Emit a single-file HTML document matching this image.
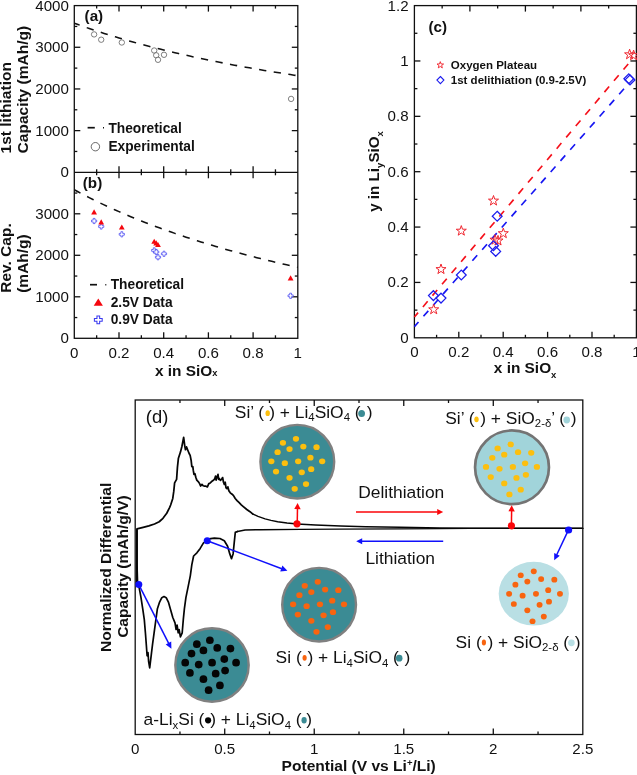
<!DOCTYPE html>
<html lang="en"><head><meta charset="utf-8"><title>SiOx figure</title>
<style>html,body{margin:0;padding:0;background:#fff}svg{display:block}text{font-family:'Liberation Sans', Arial, Helvetica, sans-serif}</style>
</head><body>
<svg width="637" height="775" viewBox="0 0 637 775">
<rect width="637" height="775" fill="#fff"/>
<defs>
<path id="plus" d="M-0.9 -2.6 h1.8 v1.7 h1.7 v1.8 h-1.7 v1.7 h-1.8 v-1.7 h-1.7 v-1.8 h1.7z" fill="#fff" stroke="#3a3af0" stroke-width="0.7"/>
<polygon id="star" points="0,-4.9 1.23,-1.3 5.04,-1.24 2,1.05 3.12,4.69 0,2.5 -3.12,4.69 -2,1.05 -5.04,-1.24 -1.23,-1.3" fill="none" stroke="#f0262f" stroke-width="1" stroke-linejoin="miter"/>
<path id="dia" d="M0 -4.9 L4.9 0 L0 4.9 L-4.9 0z" fill="none" stroke="#1c1cee" stroke-width="1.25"/>
</defs>
<g id="panel-ab">
<rect x="74.3" y="5.6" width="223.5" height="332.7" fill="none" stroke="#101010" stroke-width="1.3"/>
<line x1="74.3" y1="172.3" x2="297.8" y2="172.3" stroke="#101010" stroke-width="1.3" />
<line x1="96.65" y1="5.6" x2="96.65" y2="8.6" stroke="#101010" stroke-width="1.3" />
<line x1="96.65" y1="169.3" x2="96.65" y2="175.3" stroke="#101010" stroke-width="1.3" />
<line x1="96.65" y1="335.3" x2="96.65" y2="338.3" stroke="#101010" stroke-width="1.3" />
<line x1="119" y1="5.6" x2="119" y2="11.6" stroke="#101010" stroke-width="1.3" />
<line x1="119" y1="166.3" x2="119" y2="178.3" stroke="#101010" stroke-width="1.3" />
<line x1="119" y1="332.3" x2="119" y2="338.3" stroke="#101010" stroke-width="1.3" />
<line x1="141.35" y1="5.6" x2="141.35" y2="8.6" stroke="#101010" stroke-width="1.3" />
<line x1="141.35" y1="169.3" x2="141.35" y2="175.3" stroke="#101010" stroke-width="1.3" />
<line x1="141.35" y1="335.3" x2="141.35" y2="338.3" stroke="#101010" stroke-width="1.3" />
<line x1="163.7" y1="5.6" x2="163.7" y2="11.6" stroke="#101010" stroke-width="1.3" />
<line x1="163.7" y1="166.3" x2="163.7" y2="178.3" stroke="#101010" stroke-width="1.3" />
<line x1="163.7" y1="332.3" x2="163.7" y2="338.3" stroke="#101010" stroke-width="1.3" />
<line x1="186.05" y1="5.6" x2="186.05" y2="8.6" stroke="#101010" stroke-width="1.3" />
<line x1="186.05" y1="169.3" x2="186.05" y2="175.3" stroke="#101010" stroke-width="1.3" />
<line x1="186.05" y1="335.3" x2="186.05" y2="338.3" stroke="#101010" stroke-width="1.3" />
<line x1="208.4" y1="5.6" x2="208.4" y2="11.6" stroke="#101010" stroke-width="1.3" />
<line x1="208.4" y1="166.3" x2="208.4" y2="178.3" stroke="#101010" stroke-width="1.3" />
<line x1="208.4" y1="332.3" x2="208.4" y2="338.3" stroke="#101010" stroke-width="1.3" />
<line x1="230.75" y1="5.6" x2="230.75" y2="8.6" stroke="#101010" stroke-width="1.3" />
<line x1="230.75" y1="169.3" x2="230.75" y2="175.3" stroke="#101010" stroke-width="1.3" />
<line x1="230.75" y1="335.3" x2="230.75" y2="338.3" stroke="#101010" stroke-width="1.3" />
<line x1="253.1" y1="5.6" x2="253.1" y2="11.6" stroke="#101010" stroke-width="1.3" />
<line x1="253.1" y1="166.3" x2="253.1" y2="178.3" stroke="#101010" stroke-width="1.3" />
<line x1="253.1" y1="332.3" x2="253.1" y2="338.3" stroke="#101010" stroke-width="1.3" />
<line x1="275.45" y1="5.6" x2="275.45" y2="8.6" stroke="#101010" stroke-width="1.3" />
<line x1="275.45" y1="169.3" x2="275.45" y2="175.3" stroke="#101010" stroke-width="1.3" />
<line x1="275.45" y1="335.3" x2="275.45" y2="338.3" stroke="#101010" stroke-width="1.3" />
<line x1="74.3" y1="151.46" x2="77.3" y2="151.46" stroke="#101010" stroke-width="1.3" />
<line x1="294.8" y1="151.46" x2="297.8" y2="151.46" stroke="#101010" stroke-width="1.3" />
<line x1="74.3" y1="317.55" x2="77.3" y2="317.55" stroke="#101010" stroke-width="1.3" />
<line x1="294.8" y1="317.55" x2="297.8" y2="317.55" stroke="#101010" stroke-width="1.3" />
<line x1="74.3" y1="130.62" x2="80.3" y2="130.62" stroke="#101010" stroke-width="1.3" />
<line x1="291.8" y1="130.62" x2="297.8" y2="130.62" stroke="#101010" stroke-width="1.3" />
<line x1="74.3" y1="296.8" x2="80.3" y2="296.8" stroke="#101010" stroke-width="1.3" />
<line x1="291.8" y1="296.8" x2="297.8" y2="296.8" stroke="#101010" stroke-width="1.3" />
<line x1="74.3" y1="109.79" x2="77.3" y2="109.79" stroke="#101010" stroke-width="1.3" />
<line x1="294.8" y1="109.79" x2="297.8" y2="109.79" stroke="#101010" stroke-width="1.3" />
<line x1="74.3" y1="276.05" x2="77.3" y2="276.05" stroke="#101010" stroke-width="1.3" />
<line x1="294.8" y1="276.05" x2="297.8" y2="276.05" stroke="#101010" stroke-width="1.3" />
<line x1="74.3" y1="88.95" x2="80.3" y2="88.95" stroke="#101010" stroke-width="1.3" />
<line x1="291.8" y1="88.95" x2="297.8" y2="88.95" stroke="#101010" stroke-width="1.3" />
<line x1="74.3" y1="255.3" x2="80.3" y2="255.3" stroke="#101010" stroke-width="1.3" />
<line x1="291.8" y1="255.3" x2="297.8" y2="255.3" stroke="#101010" stroke-width="1.3" />
<line x1="74.3" y1="68.11" x2="77.3" y2="68.11" stroke="#101010" stroke-width="1.3" />
<line x1="294.8" y1="68.11" x2="297.8" y2="68.11" stroke="#101010" stroke-width="1.3" />
<line x1="74.3" y1="234.55" x2="77.3" y2="234.55" stroke="#101010" stroke-width="1.3" />
<line x1="294.8" y1="234.55" x2="297.8" y2="234.55" stroke="#101010" stroke-width="1.3" />
<line x1="74.3" y1="47.27" x2="80.3" y2="47.27" stroke="#101010" stroke-width="1.3" />
<line x1="291.8" y1="47.27" x2="297.8" y2="47.27" stroke="#101010" stroke-width="1.3" />
<line x1="74.3" y1="213.8" x2="80.3" y2="213.8" stroke="#101010" stroke-width="1.3" />
<line x1="291.8" y1="213.8" x2="297.8" y2="213.8" stroke="#101010" stroke-width="1.3" />
<line x1="74.3" y1="26.44" x2="77.3" y2="26.44" stroke="#101010" stroke-width="1.3" />
<line x1="294.8" y1="26.44" x2="297.8" y2="26.44" stroke="#101010" stroke-width="1.3" />
<line x1="74.3" y1="193.05" x2="77.3" y2="193.05" stroke="#101010" stroke-width="1.3" />
<line x1="294.8" y1="193.05" x2="297.8" y2="193.05" stroke="#101010" stroke-width="1.3" />
<text x="68.9" y="177.2" font-size="15.1" text-anchor="end" fill="#111" >0</text>
<text x="68.9" y="135.53" font-size="15.1" text-anchor="end" fill="#111" >1000</text>
<text x="68.9" y="93.85" font-size="15.1" text-anchor="end" fill="#111" >2000</text>
<text x="68.9" y="52.17" font-size="15.1" text-anchor="end" fill="#111" >3000</text>
<text x="68.9" y="10.5" font-size="15.1" text-anchor="end" fill="#111" >4000</text>
<text x="68.9" y="343.2" font-size="15.1" text-anchor="end" fill="#111" >0</text>
<text x="68.9" y="301.7" font-size="15.1" text-anchor="end" fill="#111" >1000</text>
<text x="68.9" y="260.2" font-size="15.1" text-anchor="end" fill="#111" >2000</text>
<text x="68.9" y="218.7" font-size="15.1" text-anchor="end" fill="#111" >3000</text>
<text x="74.3" y="358.3" font-size="15.1" text-anchor="middle" fill="#111" >0</text>
<text x="119" y="358.3" font-size="15.1" text-anchor="middle" fill="#111" >0.2</text>
<text x="163.7" y="358.3" font-size="15.1" text-anchor="middle" fill="#111" >0.4</text>
<text x="208.4" y="358.3" font-size="15.1" text-anchor="middle" fill="#111" >0.6</text>
<text x="253.1" y="358.3" font-size="15.1" text-anchor="middle" fill="#111" >0.8</text>
<text x="297.8" y="358.3" font-size="15.1" text-anchor="middle" fill="#111" >1</text>
<text x="155" y="376" font-size="15.4" font-weight="bold" text-anchor="start" fill="#111" >x in SiO<tspan font-size="9.3">x</tspan></text>
<g transform="rotate(-90)" font-weight="bold" font-size="15.5" fill="#111">
<text x="-153.4" y="11.1">1st lithiation</text>
<text x="-153.4" y="27.8">Capacity (mAh/g)</text>
<text x="-292.8" y="11.0">Rev. Cap.</text>
<text x="-292.8" y="27.7">(mAh/g)</text>
</g>
<text x="84.6" y="21.4" font-size="15.2" font-weight="bold" text-anchor="start" fill="#111" >(a)</text>
<text x="82.8" y="188.2" font-size="15.2" font-weight="bold" text-anchor="start" fill="#111" >(b)</text>
<polyline points="74.3,23.17 78.02,24.53 81.75,25.86 85.47,27.18 89.2,28.46 92.92,29.73 96.65,30.97 100.38,32.19 104.1,33.39 107.82,34.56 111.55,35.72 115.27,36.86 119,37.97 122.72,39.07 126.45,40.15 130.18,41.21 133.9,42.26 137.62,43.29 141.35,44.3 145.07,45.29 148.8,46.27 152.52,47.23 156.25,48.18 159.98,49.11 163.7,50.03 167.43,50.94 171.15,51.83 174.88,52.71 178.6,53.57 182.32,54.42 186.05,55.26 189.78,56.09 193.5,56.9 197.23,57.71 200.95,58.5 204.68,59.28 208.4,60.05 212.12,60.8 215.85,61.55 219.57,62.29 223.3,63.01 227.02,63.73 230.75,64.44 234.48,65.14 238.2,65.83 241.93,66.5 245.65,67.18 249.38,67.84 253.1,68.49 256.82,69.13 260.55,69.77 264.27,70.4 268,71.02 271.72,71.63 275.45,72.23 279.18,72.83 282.9,73.42 286.62,74 290.35,74.58 294.07,75.15 297.8,75.71" fill="none" stroke="#111" stroke-width="1.55" stroke-dasharray="7.3 7.5" stroke-dashoffset="1.6"/>
<polyline points="74.3,189.79 78.02,191.8 81.75,193.77 85.47,195.71 89.2,197.61 92.92,199.48 96.65,201.31 100.38,203.11 104.1,204.88 107.82,206.61 111.55,208.32 115.27,210 119,211.65 122.72,213.27 126.45,214.86 130.18,216.43 133.9,217.97 137.62,219.49 141.35,220.98 145.07,222.45 148.8,223.89 152.52,225.32 156.25,226.71 159.98,228.09 163.7,229.45 167.43,230.78 171.15,232.1 174.88,233.39 178.6,234.67 182.32,235.93 186.05,237.16 189.78,238.38 193.5,239.59 197.23,240.77 200.95,241.94 204.68,243.09 208.4,244.22 212.12,245.34 215.85,246.45 219.57,247.54 223.3,248.61 227.02,249.67 230.75,250.71 234.48,251.74 238.2,252.76 241.93,253.76 245.65,254.75 249.38,255.72 253.1,256.69 256.82,257.64 260.55,258.58 264.27,259.51 268,260.42 271.72,261.32 275.45,262.22 279.18,263.1 282.9,263.97 286.62,264.83 290.35,265.68 294.07,266.51 297.8,267.34" fill="none" stroke="#111" stroke-width="1.55" stroke-dasharray="7.3 7.5" stroke-dashoffset="0.3"/>
<circle cx="94.1" cy="34.4" r="2.7" fill="#fff" fill-opacity="0.6" stroke="#555" stroke-width="0.75"/>
<circle cx="101.2" cy="39.7" r="2.7" fill="#fff" fill-opacity="0.6" stroke="#555" stroke-width="0.75"/>
<circle cx="121.8" cy="42.5" r="2.7" fill="#fff" fill-opacity="0.6" stroke="#555" stroke-width="0.75"/>
<circle cx="154.2" cy="50.5" r="2.7" fill="#fff" fill-opacity="0.6" stroke="#555" stroke-width="0.75"/>
<circle cx="156.2" cy="55.3" r="2.7" fill="#fff" fill-opacity="0.6" stroke="#555" stroke-width="0.75"/>
<circle cx="158" cy="59.8" r="2.7" fill="#fff" fill-opacity="0.6" stroke="#555" stroke-width="0.75"/>
<circle cx="164" cy="54.8" r="2.7" fill="#fff" fill-opacity="0.6" stroke="#555" stroke-width="0.75"/>
<circle cx="291.1" cy="98.9" r="2.7" fill="#fff" fill-opacity="0.6" stroke="#555" stroke-width="0.75"/>
<line x1="87.6" y1="127.7" x2="94.8" y2="127.7" stroke="#111" stroke-width="1.7" />
<line x1="103" y1="127.7" x2="104" y2="127.7" stroke="#111" stroke-width="1.4" />
<text x="108.4" y="132.5" font-size="13.75" font-weight="bold" text-anchor="start" fill="#111" >Theoretical</text>
<circle cx="95.4" cy="146.7" r="4.2" fill="none" stroke="#444" stroke-width="0.8"/>
<text x="108.4" y="150.9" font-size="13.75" font-weight="bold" text-anchor="start" fill="#111" >Experimental</text>
<use href="#plus" x="94.1" y="221"/>
<use href="#plus" x="101.2" y="226.5"/>
<use href="#plus" x="121.8" y="234.3"/>
<use href="#plus" x="154.2" y="250.4"/>
<use href="#plus" x="156.2" y="252"/>
<use href="#plus" x="158" y="257.2"/>
<use href="#plus" x="164" y="253.8"/>
<use href="#plus" x="290.6" y="295.8"/>
<path d="M94.1 209.3 l2.9 5.1 h-5.8z" fill="#f5070f"/>
<path d="M101.2 219.3 l2.9 5.1 h-5.8z" fill="#f5070f"/>
<path d="M121.8 224.5 l2.9 5.1 h-5.8z" fill="#f5070f"/>
<path d="M154.2 238.7 l2.9 5.1 h-5.8z" fill="#f5070f"/>
<path d="M156.2 240.3 l2.9 5.1 h-5.8z" fill="#f5070f"/>
<path d="M158 241.9 l2.9 5.1 h-5.8z" fill="#f5070f"/>
<path d="M290.6 275.3 l2.9 5.1 h-5.8z" fill="#f5070f"/>
<line x1="90" y1="284.7" x2="97" y2="284.7" stroke="#111" stroke-width="1.7" />
<line x1="105.3" y1="284.7" x2="106.3" y2="284.7" stroke="#111" stroke-width="1.4" />
<text x="110.7" y="289.3" font-size="13.75" font-weight="bold" text-anchor="start" fill="#111" >Theoretical</text>
<path d="M98.3 298.6 l4.6 7.2 h-9.2z" fill="#f5070f"/>
<text x="110.7" y="306.7" font-size="13.75" font-weight="bold" text-anchor="start" fill="#111" >2.5V Data</text>
<use href="#plus" transform="translate(98.3 319.9) scale(1.5)"/>
<text x="110.7" y="324.3" font-size="13.75" font-weight="bold" text-anchor="start" fill="#111" >0.9V Data</text>
</g>
<g id="panel-c">
<rect x="414.4" y="5.6" width="222" height="332.2" fill="none" stroke="#101010" stroke-width="1.3"/>
<line x1="436.6" y1="334.8" x2="436.6" y2="337.8" stroke="#101010" stroke-width="1.3" />
<line x1="458.8" y1="331.8" x2="458.8" y2="337.8" stroke="#101010" stroke-width="1.3" />
<line x1="481" y1="334.8" x2="481" y2="337.8" stroke="#101010" stroke-width="1.3" />
<line x1="503.2" y1="331.8" x2="503.2" y2="337.8" stroke="#101010" stroke-width="1.3" />
<line x1="525.4" y1="334.8" x2="525.4" y2="337.8" stroke="#101010" stroke-width="1.3" />
<line x1="547.6" y1="331.8" x2="547.6" y2="337.8" stroke="#101010" stroke-width="1.3" />
<line x1="569.8" y1="334.8" x2="569.8" y2="337.8" stroke="#101010" stroke-width="1.3" />
<line x1="592" y1="331.8" x2="592" y2="337.8" stroke="#101010" stroke-width="1.3" />
<line x1="614.2" y1="334.8" x2="614.2" y2="337.8" stroke="#101010" stroke-width="1.3" />
<line x1="442.15" y1="5.6" x2="442.15" y2="8.6" stroke="#101010" stroke-width="1.3" />
<line x1="469.9" y1="5.6" x2="469.9" y2="11.6" stroke="#101010" stroke-width="1.3" />
<line x1="497.65" y1="5.6" x2="497.65" y2="8.6" stroke="#101010" stroke-width="1.3" />
<line x1="525.4" y1="5.6" x2="525.4" y2="11.6" stroke="#101010" stroke-width="1.3" />
<line x1="553.15" y1="5.6" x2="553.15" y2="8.6" stroke="#101010" stroke-width="1.3" />
<line x1="580.9" y1="5.6" x2="580.9" y2="11.6" stroke="#101010" stroke-width="1.3" />
<line x1="608.65" y1="5.6" x2="608.65" y2="8.6" stroke="#101010" stroke-width="1.3" />
<line x1="414.4" y1="310.12" x2="417.4" y2="310.12" stroke="#101010" stroke-width="1.3" />
<line x1="633.4" y1="310.12" x2="636.4" y2="310.12" stroke="#101010" stroke-width="1.3" />
<line x1="414.4" y1="282.43" x2="420.4" y2="282.43" stroke="#101010" stroke-width="1.3" />
<line x1="630.4" y1="282.43" x2="636.4" y2="282.43" stroke="#101010" stroke-width="1.3" />
<line x1="414.4" y1="254.75" x2="417.4" y2="254.75" stroke="#101010" stroke-width="1.3" />
<line x1="633.4" y1="254.75" x2="636.4" y2="254.75" stroke="#101010" stroke-width="1.3" />
<line x1="414.4" y1="227.07" x2="420.4" y2="227.07" stroke="#101010" stroke-width="1.3" />
<line x1="630.4" y1="227.07" x2="636.4" y2="227.07" stroke="#101010" stroke-width="1.3" />
<line x1="414.4" y1="199.38" x2="417.4" y2="199.38" stroke="#101010" stroke-width="1.3" />
<line x1="633.4" y1="199.38" x2="636.4" y2="199.38" stroke="#101010" stroke-width="1.3" />
<line x1="414.4" y1="171.7" x2="420.4" y2="171.7" stroke="#101010" stroke-width="1.3" />
<line x1="630.4" y1="171.7" x2="636.4" y2="171.7" stroke="#101010" stroke-width="1.3" />
<line x1="414.4" y1="144.02" x2="417.4" y2="144.02" stroke="#101010" stroke-width="1.3" />
<line x1="633.4" y1="144.02" x2="636.4" y2="144.02" stroke="#101010" stroke-width="1.3" />
<line x1="414.4" y1="116.33" x2="420.4" y2="116.33" stroke="#101010" stroke-width="1.3" />
<line x1="630.4" y1="116.33" x2="636.4" y2="116.33" stroke="#101010" stroke-width="1.3" />
<line x1="414.4" y1="88.65" x2="417.4" y2="88.65" stroke="#101010" stroke-width="1.3" />
<line x1="633.4" y1="88.65" x2="636.4" y2="88.65" stroke="#101010" stroke-width="1.3" />
<line x1="414.4" y1="60.97" x2="420.4" y2="60.97" stroke="#101010" stroke-width="1.3" />
<line x1="630.4" y1="60.97" x2="636.4" y2="60.97" stroke="#101010" stroke-width="1.3" />
<line x1="414.4" y1="33.28" x2="417.4" y2="33.28" stroke="#101010" stroke-width="1.3" />
<line x1="633.4" y1="33.28" x2="636.4" y2="33.28" stroke="#101010" stroke-width="1.3" />
<text x="408.6" y="342.7" font-size="15.1" text-anchor="end" fill="#111" >0</text>
<text x="408.6" y="287.33" font-size="15.1" text-anchor="end" fill="#111" >0.2</text>
<text x="408.6" y="231.97" font-size="15.1" text-anchor="end" fill="#111" >0.4</text>
<text x="408.6" y="176.6" font-size="15.1" text-anchor="end" fill="#111" >0.6</text>
<text x="408.6" y="121.23" font-size="15.1" text-anchor="end" fill="#111" >0.8</text>
<text x="408.6" y="65.87" font-size="15.1" text-anchor="end" fill="#111" >1</text>
<text x="408.6" y="10.5" font-size="15.1" text-anchor="end" fill="#111" >1.2</text>
<text x="414.4" y="356.9" font-size="15.1" text-anchor="middle" fill="#111" >0</text>
<text x="458.8" y="356.9" font-size="15.1" text-anchor="middle" fill="#111" >0.2</text>
<text x="503.2" y="356.9" font-size="15.1" text-anchor="middle" fill="#111" >0.4</text>
<text x="547.6" y="356.9" font-size="15.1" text-anchor="middle" fill="#111" >0.6</text>
<text x="592" y="356.9" font-size="15.1" text-anchor="middle" fill="#111" >0.8</text>
<text x="636.4" y="356.9" font-size="15.1" text-anchor="middle" fill="#111" >1</text>
<text x="493.8" y="373.4" font-size="15.4" font-weight="bold" text-anchor="start" fill="#111" >x in SiO<tspan font-size="9.5" dy="4.3">x</tspan></text>
<g transform="rotate(-90)" font-weight="bold" font-size="15.2" fill="#111">
<text x="-211.8" y="379.4">y in Li<tspan font-size="9.5" dy="3.4">y</tspan><tspan dy="-3.4">SiO</tspan><tspan font-size="9.5" dy="3.4">x</tspan></text>
</g>
<text x="428.4" y="31.5" font-size="15.2" font-weight="bold" text-anchor="start" fill="#111" >(c)</text>
<line x1="414.4" y1="317" x2="628.2" y2="64" stroke="#f5101a" stroke-width="1.65" stroke-dasharray="7.3 7.5" stroke-dashoffset="1.6"/>
<line x1="414.4" y1="326.6" x2="628.2" y2="84" stroke="#1616f2" stroke-width="1.65" stroke-dasharray="7.3 7.5" stroke-dashoffset="1.1"/>
<use href="#star" x="433.7" y="309.1"/>
<use href="#star" x="441" y="268.9"/>
<use href="#star" x="461.3" y="230.5"/>
<use href="#star" x="493.5" y="200.4"/>
<use href="#star" x="495" y="239.5"/>
<use href="#star" x="498" y="240.3"/>
<use href="#star" x="503.3" y="233"/>
<use href="#star" x="629.6" y="54.1"/>
<use href="#star" x="633.6" y="55"/>
<use href="#dia" x="433.4" y="295.6"/>
<use href="#dia" x="441" y="298.1"/>
<use href="#dia" x="461.3" y="275"/>
<use href="#dia" x="493.5" y="245.8"/>
<use href="#dia" x="495.7" y="251.4"/>
<use href="#dia" x="497.2" y="216.2"/>
<use href="#dia" x="628.8" y="78.8"/>
<use href="#dia" x="630" y="79.9"/>
<polygon points="440.3,61.65 441.12,63.97 443.58,64.03 441.63,65.53 442.33,67.89 440.3,66.5 438.27,67.89 438.97,65.53 437.02,64.03 439.48,63.97" fill="none" stroke="#f0262f" stroke-width="0.95"/>
<text x="450.8" y="69" font-size="11.5" font-weight="bold" text-anchor="start" fill="#111" >Oxygen Plateau</text>
<path d="M440.4 76.5 l3.5 3.6 l-3.5 3.6 l-3.5 -3.6z" fill="none" stroke="#1c1cee" stroke-width="1.1"/>
<text x="450.8" y="83.8" font-size="11.5" font-weight="bold" text-anchor="start" fill="#111" >1st delithiation (0.9-2.5V)</text>
</g>
<g id="panel-d">
<polyline points="136.9,584 137,528.9 143.19,527.39 148.84,525.88 154.49,523.99 159.2,521.73 162.97,518.34 166.74,513.26 169.56,507.6 170.65,504.97 172.77,498.47 173.76,491.4 174.61,482.93 176.59,479.39 177.43,467.38 178.42,458.2 180.54,451.84 181.95,446.19 183.65,437.43 184.78,446.19 185.49,449.72 186.47,446.9 187.61,449.72 189.02,453.26 190.15,455.38 191.14,460.32 191.84,466.68 192.83,466.68 193.26,470.21 193.96,474.45 194.95,473.74 195.8,477.27 196.79,480.1 198.2,481.51 199.61,483.63 200.6,486.03 202.02,484.34 203.15,485.75 204.56,486.03 205.97,486.18 207.38,486.88 208.8,483.63 209.93,483.21 211.62,481.51 213.74,480.1 214.73,478.69 215.58,476.14 216.14,480.1 216.99,477.27 217.98,474.45 218.69,479.39 219.39,478.69 220.38,480.38 221.51,479.39 222.64,477.56 223.49,482.22 224.34,484.34 225.19,482.22 226.03,487.87 226.88,488.58 227.87,486.88 228.86,490.7 230.27,492.82 232.11,494.23 233.52,495.64 235.22,498.47 237.05,500.59 239.17,502.71 241.29,504.82 243,506.3 246.8,509.5 250,511.7 252.6,513.9" fill="none" stroke="#050505" stroke-width="1.75" stroke-linejoin="round" stroke-linecap="round"/>
<polyline points="252.6,513.9 258,516.4 265.1,518.9 271,520.4 277.7,521.7 287,523 297.3,524 315.4,525 340.5,526 365.6,526.7 400,527.3 440,527.9 470,528.2 582.8,528.3" fill="none" stroke="#050505" stroke-width="1.4" stroke-linejoin="round" stroke-linecap="round"/>
<polyline points="582.8,528.4 470,528.4 440,528.6 400,528.85 340,529.15 300,529.4 260,529.7 245.1,530 237.5,531.5" fill="none" stroke="#050505" stroke-width="1.4" stroke-linejoin="round" stroke-linecap="round"/>
<polyline points="237.5,531.5 235.3,532.4 234.2,542.9 233.1,553.9 231.5,558.7 229.8,553.9 227.6,546.2 224.3,540.7 219.9,538.5 214.4,538.1 208.9,538.9 206.8,540.7 203.5,542.9 200.2,548.4 196.9,552.8 193.6,556 191.8,564.8 190.3,575.8 188.1,586.8 185.9,597.7 184.4,608.7 183.3,619.6 182.2,632.8 180.4,636.8 179.1,629.5 178.2,632.8 177.1,625.1 176.1,629.5 175,622.9 172.8,617.5 170.6,609.8 168.4,602.1 166.2,597.7 164,596.6 161.8,597.7 159.6,602.1 157.4,608.7 155.9,619.6 154.1,632.8 152.6,643.8 151.3,654.7 149.7,667.9 148.6,661.3 148,652.5 147.1,655.8 146.4,646 145.4,632.8 144.3,619.6 142.7,608.7 141,597.7 139.2,587.8 137.6,584.6 137,564.8 136.9,542.9 136.9,529.7" fill="none" stroke="#050505" stroke-width="1.7" stroke-linejoin="round" stroke-linecap="round"/>
<rect x="135.2" y="400" width="447.6" height="334.5" fill="none" stroke="#101010" stroke-width="1.3"/>
<line x1="179.96" y1="400" x2="179.96" y2="403" stroke="#101010" stroke-width="1.3" />
<line x1="179.96" y1="731.5" x2="179.96" y2="734.5" stroke="#101010" stroke-width="1.3" />
<line x1="224.72" y1="400" x2="224.72" y2="406" stroke="#101010" stroke-width="1.3" />
<line x1="224.72" y1="728.5" x2="224.72" y2="734.5" stroke="#101010" stroke-width="1.3" />
<line x1="269.48" y1="400" x2="269.48" y2="403" stroke="#101010" stroke-width="1.3" />
<line x1="269.48" y1="731.5" x2="269.48" y2="734.5" stroke="#101010" stroke-width="1.3" />
<line x1="314.24" y1="400" x2="314.24" y2="406" stroke="#101010" stroke-width="1.3" />
<line x1="314.24" y1="728.5" x2="314.24" y2="734.5" stroke="#101010" stroke-width="1.3" />
<line x1="359" y1="400" x2="359" y2="403" stroke="#101010" stroke-width="1.3" />
<line x1="359" y1="731.5" x2="359" y2="734.5" stroke="#101010" stroke-width="1.3" />
<line x1="403.76" y1="400" x2="403.76" y2="406" stroke="#101010" stroke-width="1.3" />
<line x1="403.76" y1="728.5" x2="403.76" y2="734.5" stroke="#101010" stroke-width="1.3" />
<line x1="448.52" y1="400" x2="448.52" y2="403" stroke="#101010" stroke-width="1.3" />
<line x1="448.52" y1="731.5" x2="448.52" y2="734.5" stroke="#101010" stroke-width="1.3" />
<line x1="493.28" y1="400" x2="493.28" y2="406" stroke="#101010" stroke-width="1.3" />
<line x1="493.28" y1="728.5" x2="493.28" y2="734.5" stroke="#101010" stroke-width="1.3" />
<line x1="538.04" y1="400" x2="538.04" y2="403" stroke="#101010" stroke-width="1.3" />
<line x1="538.04" y1="731.5" x2="538.04" y2="734.5" stroke="#101010" stroke-width="1.3" />
<text x="135.2" y="754.2" font-size="15.1" text-anchor="middle" fill="#111" >0</text>
<text x="224.72" y="754.2" font-size="15.1" text-anchor="middle" fill="#111" >0.5</text>
<text x="314.24" y="754.2" font-size="15.1" text-anchor="middle" fill="#111" >1</text>
<text x="403.76" y="754.2" font-size="15.1" text-anchor="middle" fill="#111" >1.5</text>
<text x="493.28" y="754.2" font-size="15.1" text-anchor="middle" fill="#111" >2</text>
<text x="582.8" y="754.2" font-size="15.1" text-anchor="middle" fill="#111" >2.5</text>
<text x="358.7" y="770.7" font-size="15.55" font-weight="bold" text-anchor="middle" fill="#111" >Potential (V vs Li<tspan font-size="9.5" dy="-4.5">+</tspan><tspan dy="4.5">/Li)</tspan></text>
<g transform="rotate(-90)" font-weight="bold" font-size="15.55" fill="#111" text-anchor="middle">
<text x="-567.4" y="111.3">Normalized Differential</text>
<text x="-566.6" y="128.1">Capacity (mAh/g/V)</text>
</g>
<ellipse cx="297.3" cy="461.7" rx="36.9" ry="36.8" fill="#3b8b94" stroke="#808080" stroke-width="2.4"/>
<g fill="#fcbf0e">
<ellipse cx="295.97" cy="438.86" rx="3.12" ry="2.88"/>
<ellipse cx="282.94" cy="442.78" rx="3.12" ry="2.88"/>
<ellipse cx="303.34" cy="446.55" rx="3.12" ry="2.88"/>
<ellipse cx="316.53" cy="447.18" rx="3.12" ry="2.88"/>
<ellipse cx="289.53" cy="449.06" rx="3.12" ry="2.88"/>
<ellipse cx="277.6" cy="452.2" rx="3.12" ry="2.88"/>
<ellipse cx="310.41" cy="457.7" rx="3.12" ry="2.88"/>
<ellipse cx="271.32" cy="461.31" rx="3.12" ry="2.88"/>
<ellipse cx="284.82" cy="463.19" rx="3.12" ry="2.88"/>
<ellipse cx="298.16" cy="461.31" rx="3.12" ry="2.88"/>
<ellipse cx="322.18" cy="461.31" rx="3.12" ry="2.88"/>
<ellipse cx="311.19" cy="469.16" rx="3.12" ry="2.88"/>
<ellipse cx="276.03" cy="471.51" rx="3.12" ry="2.88"/>
<ellipse cx="301.77" cy="472.3" rx="3.12" ry="2.88"/>
<ellipse cx="289.53" cy="477.79" rx="3.12" ry="2.88"/>
<ellipse cx="306.01" cy="484.07" rx="3.12" ry="2.88"/>
<ellipse cx="294.71" cy="488.78" rx="3.12" ry="2.88"/>
</g>
<ellipse cx="512" cy="467.3" rx="36.95" ry="36.85" fill="#a1d4da" stroke="#747474" stroke-width="2.7"/>
<g fill="#fcbf0e">
<ellipse cx="510.67" cy="444.46" rx="3.12" ry="2.88"/>
<ellipse cx="497.64" cy="448.38" rx="3.12" ry="2.88"/>
<ellipse cx="518.04" cy="452.15" rx="3.12" ry="2.88"/>
<ellipse cx="531.23" cy="452.78" rx="3.12" ry="2.88"/>
<ellipse cx="504.23" cy="454.66" rx="3.12" ry="2.88"/>
<ellipse cx="492.3" cy="457.8" rx="3.12" ry="2.88"/>
<ellipse cx="525.11" cy="463.3" rx="3.12" ry="2.88"/>
<ellipse cx="486.02" cy="466.91" rx="3.12" ry="2.88"/>
<ellipse cx="499.52" cy="468.79" rx="3.12" ry="2.88"/>
<ellipse cx="512.86" cy="466.91" rx="3.12" ry="2.88"/>
<ellipse cx="536.88" cy="466.91" rx="3.12" ry="2.88"/>
<ellipse cx="525.89" cy="474.76" rx="3.12" ry="2.88"/>
<ellipse cx="490.73" cy="477.11" rx="3.12" ry="2.88"/>
<ellipse cx="516.47" cy="477.9" rx="3.12" ry="2.88"/>
<ellipse cx="504.23" cy="483.39" rx="3.12" ry="2.88"/>
<ellipse cx="520.71" cy="489.67" rx="3.12" ry="2.88"/>
<ellipse cx="509.41" cy="494.38" rx="3.12" ry="2.88"/>
</g>
<ellipse cx="319.1" cy="604.7" rx="36.9" ry="36.8" fill="#3b8b94" stroke="#808080" stroke-width="2.4"/>
<g fill="#f8640f">
<ellipse cx="317.77" cy="581.86" rx="3.12" ry="2.88"/>
<ellipse cx="304.74" cy="585.78" rx="3.12" ry="2.88"/>
<ellipse cx="325.14" cy="589.55" rx="3.12" ry="2.88"/>
<ellipse cx="338.33" cy="590.18" rx="3.12" ry="2.88"/>
<ellipse cx="311.33" cy="592.06" rx="3.12" ry="2.88"/>
<ellipse cx="299.4" cy="595.2" rx="3.12" ry="2.88"/>
<ellipse cx="332.21" cy="600.7" rx="3.12" ry="2.88"/>
<ellipse cx="293.12" cy="604.31" rx="3.12" ry="2.88"/>
<ellipse cx="306.62" cy="606.19" rx="3.12" ry="2.88"/>
<ellipse cx="319.96" cy="604.31" rx="3.12" ry="2.88"/>
<ellipse cx="343.98" cy="604.31" rx="3.12" ry="2.88"/>
<ellipse cx="332.99" cy="612.16" rx="3.12" ry="2.88"/>
<ellipse cx="297.83" cy="614.51" rx="3.12" ry="2.88"/>
<ellipse cx="323.57" cy="615.3" rx="3.12" ry="2.88"/>
<ellipse cx="311.33" cy="620.79" rx="3.12" ry="2.88"/>
<ellipse cx="327.81" cy="627.07" rx="3.12" ry="2.88"/>
<ellipse cx="316.51" cy="631.78" rx="3.12" ry="2.88"/>
</g>
<ellipse cx="212" cy="665" rx="36.7" ry="36.7" fill="#3b8b94" stroke="#808080" stroke-width="2.4"/>
<g fill="#050505">
<ellipse cx="209.87" cy="640.26" rx="3.85" ry="3.85"/>
<ellipse cx="196.84" cy="644.18" rx="3.85" ry="3.85"/>
<ellipse cx="217.24" cy="647.95" rx="3.85" ry="3.85"/>
<ellipse cx="230.43" cy="648.58" rx="3.85" ry="3.85"/>
<ellipse cx="203.43" cy="650.46" rx="3.85" ry="3.85"/>
<ellipse cx="191.5" cy="653.6" rx="3.85" ry="3.85"/>
<ellipse cx="224.31" cy="659.1" rx="3.85" ry="3.85"/>
<ellipse cx="185.22" cy="662.71" rx="3.85" ry="3.85"/>
<ellipse cx="198.72" cy="664.59" rx="3.85" ry="3.85"/>
<ellipse cx="212.06" cy="662.71" rx="3.85" ry="3.85"/>
<ellipse cx="236.08" cy="662.71" rx="3.85" ry="3.85"/>
<ellipse cx="225.09" cy="670.56" rx="3.85" ry="3.85"/>
<ellipse cx="189.93" cy="672.91" rx="3.85" ry="3.85"/>
<ellipse cx="215.67" cy="673.7" rx="3.85" ry="3.85"/>
<ellipse cx="203.43" cy="679.19" rx="3.85" ry="3.85"/>
<ellipse cx="219.91" cy="685.47" rx="3.85" ry="3.85"/>
<ellipse cx="208.61" cy="690.18" rx="3.85" ry="3.85"/>
</g>
<ellipse cx="533.8" cy="593.7" rx="35.1" ry="31.9" fill="#b9dfe4"/>
<g fill="#f8640f">
<ellipse cx="533.77" cy="571.36" rx="2.96" ry="2.84"/>
<ellipse cx="520.74" cy="575.28" rx="2.96" ry="2.84"/>
<ellipse cx="541.14" cy="579.05" rx="2.96" ry="2.84"/>
<ellipse cx="554.33" cy="579.68" rx="2.96" ry="2.84"/>
<ellipse cx="527.33" cy="581.56" rx="2.96" ry="2.84"/>
<ellipse cx="515.4" cy="584.7" rx="2.96" ry="2.84"/>
<ellipse cx="548.21" cy="590.2" rx="2.96" ry="2.84"/>
<ellipse cx="509.12" cy="593.81" rx="2.96" ry="2.84"/>
<ellipse cx="522.62" cy="595.69" rx="2.96" ry="2.84"/>
<ellipse cx="535.96" cy="593.81" rx="2.96" ry="2.84"/>
<ellipse cx="559.98" cy="593.81" rx="2.96" ry="2.84"/>
<ellipse cx="548.99" cy="601.66" rx="2.96" ry="2.84"/>
<ellipse cx="513.83" cy="604.01" rx="2.96" ry="2.84"/>
<ellipse cx="539.57" cy="604.8" rx="2.96" ry="2.84"/>
<ellipse cx="527.33" cy="610.29" rx="2.96" ry="2.84"/>
<ellipse cx="543.81" cy="616.57" rx="2.96" ry="2.84"/>
<ellipse cx="532.51" cy="621.28" rx="2.96" ry="2.84"/>
</g>
<line x1="297.2" y1="524" x2="297.49" y2="508.6" stroke="#fb0509" stroke-width="1.5" />
<path d="M297.6 502.9 L300.68 509.16 L294.28 509.04z" fill="#fb0509"/>
<circle cx="297.0" cy="523.8" r="3.6" fill="#fb0509"/>
<line x1="511.4" y1="526" x2="511.62" y2="510.9" stroke="#fb0509" stroke-width="1.5" />
<path d="M511.7 505.2 L514.81 511.45 L508.41 511.35z" fill="#fb0509"/>
<circle cx="511.4" cy="525.8" r="3.6" fill="#fb0509"/>
<line x1="356" y1="512" x2="437.7" y2="512" stroke="#fb0509" stroke-width="1.5" />
<path d="M443.2 512 L437.2 515 L437.2 509z" fill="#fb0509"/>
<line x1="443.2" y1="541.2" x2="361.7" y2="541.2" stroke="#1010fb" stroke-width="1.5" />
<path d="M356.2 541.2 L362.2 538.2 L362.2 544.2z" fill="#1010fb"/>
<line x1="207.2" y1="540.7" x2="281.78" y2="568.69" stroke="#1010fb" stroke-width="1.5" />
<path d="M287.4 570.8 L280.23 571.42 L282.4 565.61z" fill="#1010fb"/>
<circle cx="207.2" cy="540.7" r="3.5" fill="#1010fb"/>
<line x1="138.8" y1="584.6" x2="168.68" y2="643.45" stroke="#1010fb" stroke-width="1.5" />
<path d="M171.4 648.8 L165.69 644.41 L171.22 641.6z" fill="#1010fb"/>
<circle cx="138.8" cy="584.6" r="3.5" fill="#1010fb"/>
<line x1="568.6" y1="529.6" x2="556.75" y2="554.77" stroke="#1010fb" stroke-width="1.5" />
<path d="M554.2 560.2 L554.16 553 L559.77 555.64z" fill="#1010fb"/>
<circle cx="568.6" cy="530.0" r="3.6" fill="#1010fb"/>
<text x="145.8" y="423.3" font-size="18.4" text-anchor="start" fill="#111" >(d)</text>
<text x="358.2" y="498.4" font-size="17.4" text-anchor="start" fill="#111" >Delithiation</text>
<text x="365.4" y="564.3" font-size="17.4" text-anchor="start" fill="#111" >Lithiation</text>
</g>
<g id="labels-d" font-size="17.4" fill="#111" xml:space="preserve">
<text x="234.8" y="417.8">Si’ ( <tspan dx="0.2">)</tspan> + Li<tspan font-size="11.4" dy="3.6">4</tspan><tspan dy="-3.6">SiO</tspan><tspan font-size="11.4" dy="3.6">4</tspan><tspan dy="-3.6"> ( <tspan dx="1.4">)</tspan></tspan></text>
<text x="445.2" y="423.6">Si’ ( <tspan dx="0.9">)</tspan> + SiO<tspan font-size="11.4" dy="3.6">2-δ</tspan><tspan dy="-3.6">’ ( <tspan dx="0.7">)</tspan></tspan></text>
<text x="275.6" y="663.1">Si ( <tspan dx="0.9">)</tspan> + Li<tspan font-size="11.4" dy="3.6">4</tspan><tspan dy="-3.6">SiO</tspan><tspan font-size="11.4" dy="3.6">4</tspan><tspan dy="-3.6"> ( <tspan dx="0.7">)</tspan></tspan></text>
<text x="143.6" y="724.9">a-Li<tspan font-size="11.4" dy="3.6">x</tspan><tspan dy="-3.6">Si  ( <tspan dx="0.9">)</tspan> + Li</tspan><tspan font-size="11.4" dy="3.6">4</tspan><tspan dy="-3.6">SiO</tspan><tspan font-size="11.4" dy="3.6">4</tspan><tspan dy="-3.6"> ( <tspan dx="-0.2">)</tspan></tspan></text>
<text x="455.6" y="647.6">Si ( <tspan dx="0.9">)</tspan> + SiO<tspan font-size="11.4" dy="3.6">2-δ</tspan><tspan dy="-3.6"> ( <tspan dx="0.7">)</tspan></tspan></text>
</g>
<ellipse cx="267.7" cy="413.2" rx="2.2" ry="2.9" fill="#fcbf0e"/>
<ellipse cx="361.6" cy="413.6" rx="3.4" ry="3.5" fill="#3b8b94"/>
<ellipse cx="476.5" cy="419.3" rx="2.2" ry="2.9" fill="#fcbf0e"/>
<ellipse cx="566.7" cy="420" rx="3.3" ry="3.4" fill="#a1d4da"/>
<ellipse cx="304.6" cy="657.8" rx="2.1" ry="2.9" fill="#f8640f"/>
<ellipse cx="399.2" cy="658.2" rx="3.3" ry="3.4" fill="#3b8b94"/>
<ellipse cx="208.1" cy="720.3" rx="3.1" ry="3.1" fill="#050505"/>
<ellipse cx="304.1" cy="720.3" rx="2.6" ry="3.2" fill="#3b8b94"/>
<ellipse cx="483.9" cy="642.5" rx="2.1" ry="2.9" fill="#f8640f"/>
<ellipse cx="571.4" cy="642.8" rx="3.3" ry="3.4" fill="#b9dfe4"/>
</svg></body></html>
